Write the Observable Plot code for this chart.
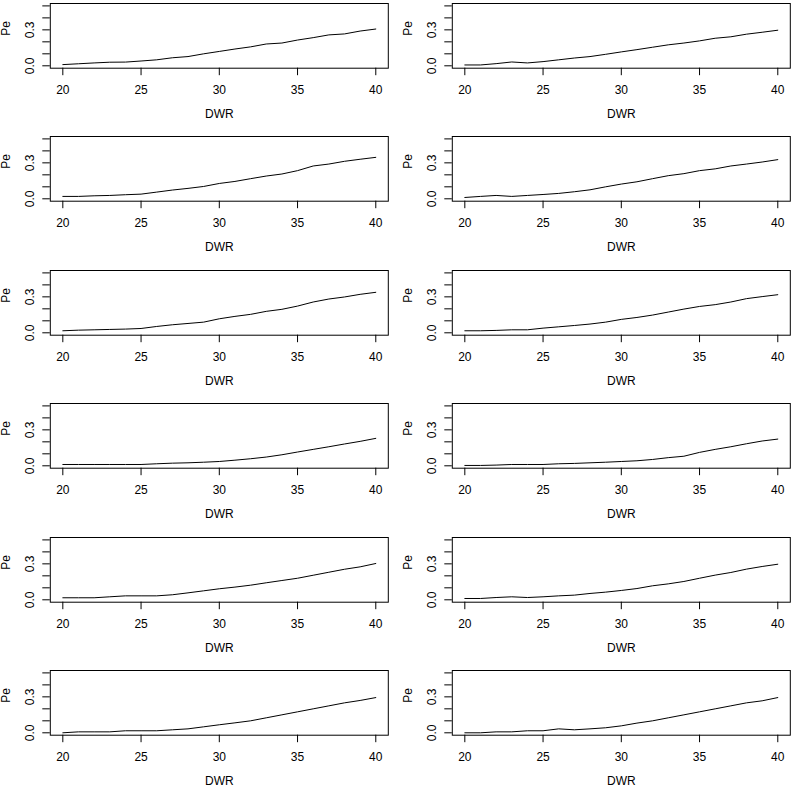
<!DOCTYPE html>
<html><head><meta charset="utf-8">
<script src="https://cdn.jsdelivr.net/npm/d3@7"></script>
<script src="https://cdn.jsdelivr.net/npm/@observablehq/plot@0.6"></script>
<style>
html,body{margin:0;padding:0;background:#fff;overflow:hidden;}
#chart{position:relative;width:793px;height:786px;overflow:hidden;background:#fff;}
#chart svg{position:absolute;}
</style></head><body><div id="chart"></div>
<script>
const dwr = [20,21,22,23,24,25,26,27,28,29,30,31,32,33,34,35,36,37,38,39,40];
const pe1  = [0.010,0.017,0.024,0.030,0.031,0.040,0.050,0.067,0.077,0.100,0.120,0.140,0.158,0.182,0.190,0.215,0.235,0.258,0.266,0.290,0.307];
const pe2  = [0.007,0.007,0.018,0.032,0.024,0.035,0.050,0.065,0.077,0.096,0.116,0.135,0.155,0.175,0.190,0.208,0.230,0.242,0.264,0.280,0.297];
const pe3  = [0.020,0.020,0.025,0.028,0.034,0.039,0.056,0.073,0.087,0.103,0.128,0.145,0.168,0.190,0.207,0.235,0.274,0.290,0.313,0.330,0.346];
const pe4  = [0.011,0.020,0.028,0.020,0.028,0.036,0.045,0.059,0.075,0.100,0.123,0.142,0.168,0.193,0.210,0.235,0.250,0.274,0.290,0.307,0.327];
const pe5  = [0.017,0.022,0.025,0.028,0.031,0.036,0.053,0.067,0.078,0.089,0.117,0.137,0.154,0.179,0.196,0.223,0.257,0.282,0.299,0.321,0.338];
const pe6  = [0.017,0.017,0.020,0.025,0.025,0.039,0.050,0.061,0.073,0.089,0.112,0.128,0.148,0.173,0.198,0.220,0.235,0.257,0.285,0.302,0.318];
const pe7  = [0.011,0.011,0.011,0.011,0.011,0.011,0.017,0.022,0.025,0.030,0.036,0.047,0.059,0.073,0.092,0.115,0.137,0.159,0.182,0.204,0.229];
const pe8  = [0.003,0.003,0.006,0.011,0.011,0.011,0.017,0.020,0.025,0.030,0.036,0.042,0.053,0.068,0.080,0.112,0.137,0.159,0.184,0.207,0.223];
const pe9  = [0.017,0.017,0.017,0.025,0.033,0.033,0.033,0.042,0.058,0.075,0.092,0.106,0.122,0.142,0.161,0.180,0.205,0.230,0.255,0.275,0.303];
const pe10 = [0.011,0.011,0.019,0.025,0.019,0.025,0.033,0.039,0.053,0.064,0.078,0.094,0.117,0.133,0.153,0.180,0.206,0.228,0.256,0.278,0.297];
const pe11 = [0.000,0.008,0.008,0.008,0.017,0.017,0.017,0.025,0.033,0.050,0.067,0.083,0.100,0.125,0.150,0.175,0.200,0.225,0.250,0.270,0.294];
const pe12 = [0.000,0.000,0.008,0.008,0.017,0.017,0.033,0.025,0.033,0.042,0.058,0.081,0.100,0.125,0.150,0.175,0.200,0.225,0.250,0.267,0.294];
const xTicks = [20,25,30,35,40];
const yTicks = [0,0.1,0.2,0.3,0.4,0.5];
const yLabeled = [0,0.3];
const xLabel = "DWR";
const yLabel = "Pe";

const series = [pe1,pe2,pe3,pe4,pe5,pe6,pe7,pe8,pe9,pe10,pe11,pe12];
const PANEL_H = 133.4, COL_W = 402;
const chart = document.getElementById("chart");
series.forEach((pe, i) => {
  const row = Math.floor(i / 2), col = i % 2;
  const data = dwr.map((d, j) => ({dwr: d, pe: pe[j]}));
  const svg = Plot.plot({
    width: 400, height: 134,
    marginLeft: 49.8, marginRight: 12.2, marginTop: 3, marginBottom: 66.3,
    style: {fontFamily: "'Liberation Sans', Arial, sans-serif", fontSize: "12px", background: "transparent", color: "black"},
    x: {domain: [19.2, 40.8]},
    y: {domain: [-0.02, 0.52]},
    marks: [
      Plot.frame({stroke: "black"}),
      Plot.axisX({ticks: xTicks, tickSize: 7.5, tickPadding: 10, tickFormat: d3.format("d"), label: null}),
      Plot.axisY({ticks: yTicks, tickSize: 7.5, tickPadding: 9, tickRotate: -90,
        tickFormat: d => yLabeled.includes(d) ? d.toFixed(1) : "", label: null}),
      Plot.text([xLabel], {frameAnchor: "bottom", dy: 49.6, lineAnchor: "bottom", fill: "black"}),
      Plot.text([yLabel], {frameAnchor: "left", dx: -40.5, rotate: -90, lineAnchor: "bottom", fill: "black"}),
      Plot.line(data, {x: "dwr", y: "pe", stroke: "black", strokeWidth: 1})
    ]
  });
  svg.style.left = (col * COL_W) + "px";
  svg.style.top = (row * PANEL_H) + "px";
  chart.appendChild(svg);
});
</script></body></html>
